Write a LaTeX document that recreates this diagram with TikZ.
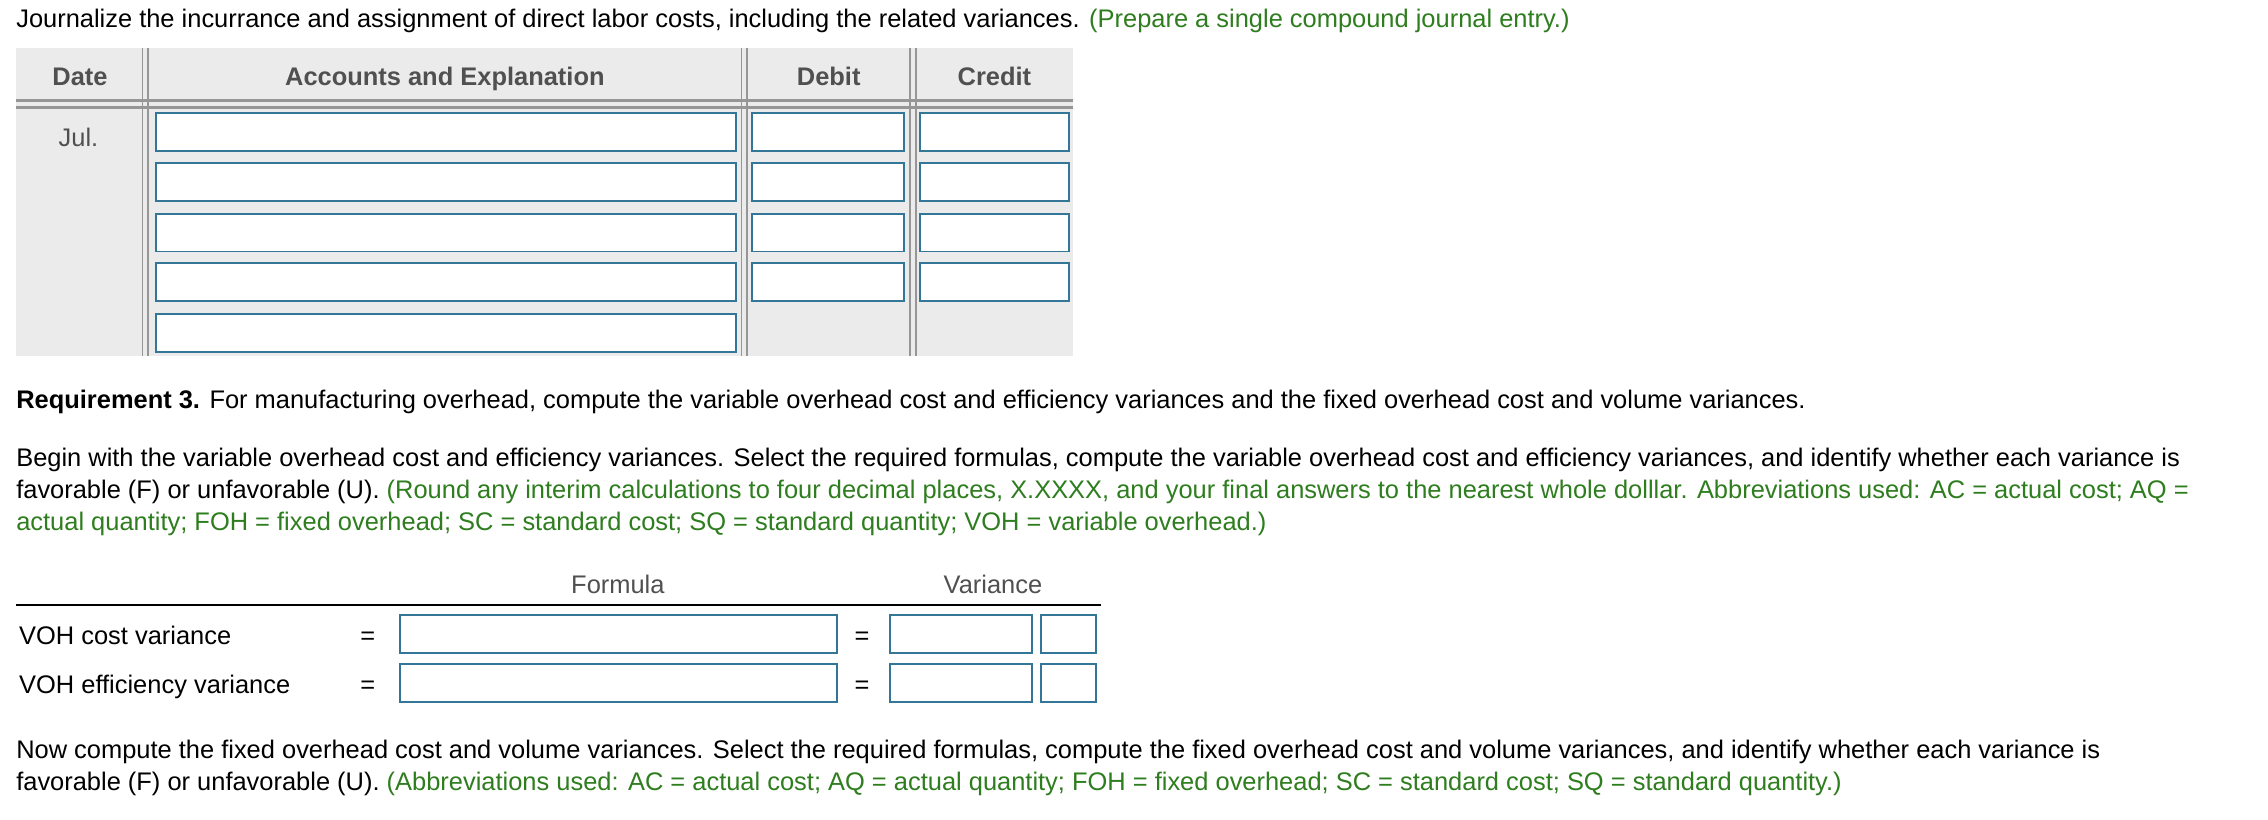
\documentclass[tikz,border=0pt]{standalone}
\usepackage{fontspec}
\setmainfont{Liberation Sans}
\definecolor{grn}{RGB}{46,125,30}
\definecolor{bx}{RGB}{52,118,152}
\definecolor{hd}{RGB}{80,80,80}
\definecolor{bg}{RGB}{235,235,235}
\definecolor{sep}{RGB}{150,150,150}
\begin{document}
\begin{tikzpicture}[x=1pt,y=-1pt,
  txt/.style={anchor=base west,inner sep=0pt,font=\fontsize{17.5}{20}\selectfont},
  hdr/.style={anchor=base,inner sep=0pt,font=\fontsize{17.5}{20}\selectfont\bfseries,text=hd},
  inp/.style={draw=bx,line width=1.3pt,fill=white}]
\useasboundingbox (0,0) rectangle (1560,564);
\fill[white] (0,0) rectangle (1560,564);
\node[txt] (t1) at (11,19) {Journalize the incurrance and assignment of direct labor costs, including the related variances. \textcolor{grn}{(Prepare a single compound journal entry.)}};
% table
\fill[bg] (11,33) rectangle (738,245);
\foreach \x in {100,512,628}{
  \draw[sep,line width=1.2pt] (\x-2,33) -- (\x-2,245);
  \draw[sep,line width=1.2pt] (\x+2,33) -- (\x+2,245);}
\draw[sep,line width=2pt] (11,69) -- (738,69);
\draw[sep,line width=2pt] (11,74) -- (738,74);
\node[hdr] (hDate) at (55,59) {Date};
\node[hdr] (hAcc) at (306,59) {Accounts and Explanation};
\node[hdr] (hDeb) at (570,59) {Debit};
\node[hdr] (hCre) at (684,59) {Credit};
\node[txt,anchor=base,text=hd] (jul) at (54,101) {Jul.};
\foreach \i/\y in {1/78,2/112,3/147,4/181,5/216}{
  \draw[inp] (107,\y) rectangle (506,\y+26);}
\foreach \i/\y in {1/78,2/112,3/147,4/181}{
  \draw[inp] (517,\y) rectangle (622,\y+26);
  \draw[inp] (633,\y) rectangle (735,\y+26);}
% requirement
\node[txt] (r3) at (11,281) {\textbf{Requirement 3.} For manufacturing overhead, compute the variable overhead cost and efficiency variances and the fixed overhead cost and volume variances.};
\node[txt] (p1) at (11,321) {Begin with the variable overhead cost and efficiency variances. Select the required formulas, compute the variable overhead cost and efficiency variances, and identify whether each variance is};
\node[txt] (p2) at (11,343) {favorable (F) or unfavorable (U). \textcolor{grn}{(Round any interim calculations to four decimal places, X.XXXX, and your final answers to the nearest whole dolllar. Abbreviations used: AC = actual cost; AQ =}};
\node[txt,text=grn] (p3) at (11,365) {actual quantity; FOH = fixed overhead; SC = standard cost; SQ = standard quantity; VOH = variable overhead.)};
% variance table
\node[txt,anchor=base,text=hd] (fh) at (425,408) {Formula};
\node[txt,anchor=base,text=hd] (vh) at (683,408) {Variance};
\draw[black,line width=1pt] (11,416) -- (757,416);
\foreach \n/\t/\y in {a/VOH cost variance/423,b/VOH efficiency variance/457}{
  \node[txt] (l\n) at (13,\y+20) {\t};
  \node[txt,anchor=base] (e1\n) at (253,\y+20) {=};
  \draw[inp] (275,\y) rectangle (576,\y+26);
  \node[txt,anchor=base] (e2\n) at (593,\y+20) {=};
  \draw[inp] (612,\y) rectangle (710,\y+26);
  \draw[inp] (716,\y) rectangle (754,\y+26);}
\node[txt] (n1) at (11,522) {Now compute the fixed overhead cost and volume variances. Select the required formulas, compute the fixed overhead cost and volume variances, and identify whether each variance is};
\node[txt] (n2) at (11,544) {favorable (F) or unfavorable (U). \textcolor{grn}{(Abbreviations used: AC = actual cost; AQ = actual quantity; FOH = fixed overhead; SC = standard cost; SQ = standard quantity.)}};
\end{tikzpicture}
\end{document}
